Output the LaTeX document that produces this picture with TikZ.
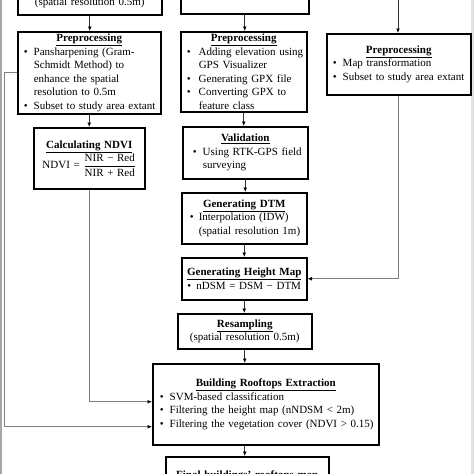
\documentclass[tikz,border=0pt]{standalone}
\usepackage{fontspec}
\setmainfont{Liberation Serif}
\usetikzlibrary{arrows.meta,calc}
\newcommand\bt[1]{{\centering\textbf{\underline{#1}}\par}}
\newcommand\bi[2][13pt]{\par\noindent\hangindent=#1\hangafter=1\makebox[#1][l]{\hspace{3pt}\textbullet}#2\par}
\newcommand\bj[2][16pt]{\par\noindent\hangindent=#1\hangafter=1\makebox[#1][l]{\hspace{6pt}\textbullet}#2\par}
\tikzset{
  box/.style={draw=black, line width=1.5pt, fill=white, anchor=north west,
    inner ysep=0pt, inner xsep=3pt, align=left, font=\fontsize{11}{13.5}\selectfont},
  arr/.style={draw=black!80, line width=1pt, -{Latex[length=4.5pt,width=4pt,color=black]}},
  conn/.style={draw=black!50, line width=0.9pt},
  conna/.style={conn, -{Latex[length=4.5pt,width=4pt,color=black]}},
}
\begin{document}
\begin{tikzpicture}[x=1pt,y=-1pt]
\useasboundingbox (0,0) rectangle (474,474);
\clip (0,0) rectangle (474,474);
\fill[white] (0,0) rectangle (474,474);
\fill[black!35] (0,0) rectangle (2,474);
\fill[black!12] (471,0) rectangle (474,474);

% left column
\node[box, align=center, minimum width=144pt, minimum height=24pt, text width=138pt] (topL) at (17,-10) {(spatial resolution 0.5m)};
\node[box, minimum width=143pt, minimum height=82pt, text width=137pt] (preL) at (17,31) {%
\bt{Preprocessing}
\bi{Pansharpening (Gram-\newline Schmidt Method) to\newline enhance the spatial\newline resolution to 0.5m}
\bi{Subset to study area extant}};
\node[box, align=center, minimum width=111pt, minimum height=61pt, text width=105pt] (ndvi) at (33,127) {%
\bt{Calculating NDVI}
NDVI = $\displaystyle\frac{\mbox{NIR − Red}}{\mbox{NIR + Red}}$};

% middle column
\node[box, minimum width=128pt, minimum height=43pt, text width=122pt] (topM) at (180,-30) {};
\node[box, minimum width=126pt, minimum height=80pt, text width=120pt] (preM) at (180,31) {%
\bt{Preprocessing}
\bi[15pt]{Adding elevation using\newline GPS Visualizer}
\bi[15pt]{Generating GPX file}
\bi[15pt]{Converting GPX to\newline feature class}};
\node[box, inner xsep=4pt, minimum width=125pt, minimum height=52pt, text width=117pt] (valid) at (182,126) {%
\bt{Validation}
\bj{Using RTK-GPS field\newline surveying}};
\node[box, inner xsep=2pt, minimum width=125pt, minimum height=51pt, text width=121pt] (dtm) at (181,192) {%
\bt{Generating DTM}
\bj[15pt]{Interpolation (IDW)\newline \mbox{(spatial resolution 1m)}}};
\node[box, align=center, minimum width=125pt, minimum height=42pt, text width=121pt, inner xsep=2pt] (hmap) at (181,257) {%
\bt{Generating Height Map}
\textbullet\hspace{5pt}nDSM = DSM − DTM};
\node[box, align=center, minimum width=134pt, minimum height=35pt, text width=128pt] (resamp) at (177,313) {%
\bt{Resampling}
(spatial resolution 0.5m)};
\node[box, inner xsep=4pt, minimum width=226pt, minimum height=81pt, text width=218pt] (extr) at (152,363) {%
\bt{Building Rooftops Extraction}
\bi{SVM-based classification}
\bi{Filtering the height map (nNDSM < 2m)}
\bi{Filtering the vegetation cover (NDVI > 0.15)}};
\node[box, align=center, minimum width=163pt, minimum height=38pt, text width=157pt] (final) at (165,456) {\textbf{Final buildings' rooftops map}};

% right column
\node[box, minimum width=144pt, minimum height=61pt, text width=138pt] (preR) at (326,33) {%
\bt{Preprocessing}
\bi{Map transformation}
\bi{Subset to study area extant}};
\coordinate (rtop) at (398,-2);

% arrows
\draw[arr] (topL.south) -- (topL.south |- preL.north);
\draw[arr] (preL.south) -- (preL.south |- ndvi.north);
\draw[arr] (topM.south) -- (topM.south |- preM.north);
\draw[arr] (preM.south) -- (preM.south |- valid.north);
\draw[arr] (valid.south) -- (valid.south |- dtm.north);
\draw[arr] (dtm.south) -- (dtm.south |- hmap.north);
\draw[arr] (hmap.south) -- (hmap.south |- resamp.north);
\draw[arr] (resamp.south) -- (resamp.south |- extr.north);
\draw[arr] (resamp.south |- extr.south) -- (resamp.south |- final.north);
\draw[arr] (rtop) -- (rtop |- preR.north);
\draw[conna] (preR.south) |- (hmap.east);
\draw[conna] (ndvi.south) |- ([yshift=2.5pt]extr.west);
\draw[conna] (preL.west) -- ++(-13,0) |- ([yshift=-22.5pt]extr.west);
\end{tikzpicture}
\end{document}
